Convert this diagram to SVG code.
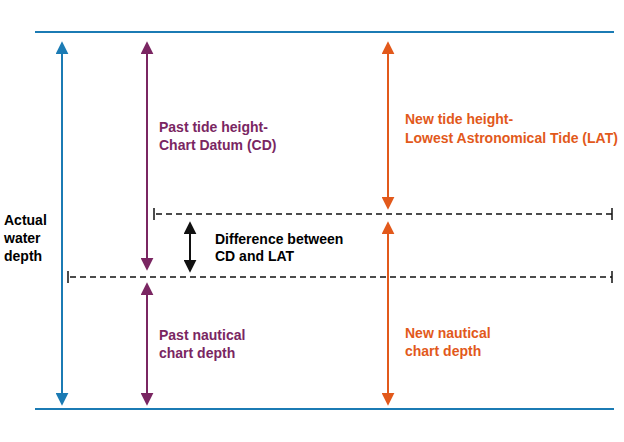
<svg xmlns="http://www.w3.org/2000/svg" width="624" height="442" viewBox="0 0 624 442">
<style>
text{font-family:"Liberation Sans",Arial,sans-serif;font-weight:bold;font-size:14px}
.b{stroke:#1b7bb4;stroke-width:2}
.p{stroke:#7a2662;stroke-width:2}
.o{stroke:#e2591b;stroke-width:2}
.k{stroke:#111;stroke-width:2}
.d{stroke:#111;stroke-width:1.5;stroke-dasharray:6,4}
</style>
<defs>
<marker id="mb" viewBox="0 0 10 10" refX="1" refY="5" markerWidth="6.5" markerHeight="6.5" orient="auto-start-reverse"><path d="M0,0L10,5L0,10z" fill="#1b7bb4"/></marker>
<marker id="mp" viewBox="0 0 10 10" refX="1" refY="5" markerWidth="6.5" markerHeight="6.5" orient="auto-start-reverse"><path d="M0,0L10,5L0,10z" fill="#7a2662"/></marker>
<marker id="mo" viewBox="0 0 10 10" refX="1" refY="5" markerWidth="6.5" markerHeight="6.5" orient="auto-start-reverse"><path d="M0,0L10,5L0,10z" fill="#e2591b"/></marker>
<marker id="mk" viewBox="0 0 10 10" refX="1" refY="5" markerWidth="6.5" markerHeight="6.5" orient="auto-start-reverse"><path d="M0,0L10,5L0,10z" fill="#111"/></marker>
</defs>
<g id="surfaces">
<line class="b" x1="35" y1="32" x2="614" y2="32"/>
<line class="b" x1="35" y1="409" x2="614" y2="409"/>
</g>
<g id="datums">
<line class="d" x1="156" y1="214" x2="612" y2="214"/>
<line stroke="#111" stroke-width="1.5" x1="154" y1="208" x2="154" y2="220"/>
<line stroke="#111" stroke-width="1.5" x1="612" y1="208" x2="612" y2="220"/>
<line class="d" x1="70" y1="277" x2="612" y2="277"/>
<line stroke="#111" stroke-width="1.5" x1="68" y1="271" x2="68" y2="283"/>
<line stroke="#111" stroke-width="1.5" x1="612" y1="271" x2="612" y2="283"/>
</g>
<g id="connectors">
<line class="b" x1="62" y1="53" x2="62" y2="394" marker-start="url(#mb)" marker-end="url(#mb)"/>
<line class="p" x1="147" y1="53" x2="147" y2="259" marker-start="url(#mp)" marker-end="url(#mp)"/>
<line class="p" x1="147" y1="294" x2="147" y2="394" marker-start="url(#mp)" marker-end="url(#mp)"/>
<line class="o" x1="388" y1="53" x2="388" y2="198" marker-start="url(#mo)" marker-end="url(#mo)"/>
<line class="o" x1="388" y1="233" x2="388" y2="394" marker-start="url(#mo)" marker-end="url(#mo)"/>
<line class="k" x1="190" y1="233" x2="190" y2="261" marker-start="url(#mk)" marker-end="url(#mk)"/>
</g>
<g id="actual"><text x="4" y="225">Actual</text><text x="4" y="243">water</text><text x="4" y="261">depth</text></g>
<g id="past-tide"><text x="159" y="132" fill="#7a2662">Past tide height-</text><text x="159" y="150" fill="#7a2662">Chart Datum (CD)</text></g>
<g id="new-tide"><text x="405" y="124" fill="#e2591b">New tide height-</text><text x="405" y="143" fill="#e2591b">Lowest Astronomical Tide (LAT)</text></g>
<g id="diff"><text x="215" y="244">Difference between</text><text x="215" y="261">CD and LAT</text></g>
<g id="past-depth"><text x="159" y="340" fill="#7a2662">Past nautical</text><text x="159" y="358" fill="#7a2662">chart depth</text></g>
<g id="new-depth"><text x="405" y="338" fill="#e2591b">New nautical</text><text x="405" y="356" fill="#e2591b">chart depth</text></g>
</svg>
